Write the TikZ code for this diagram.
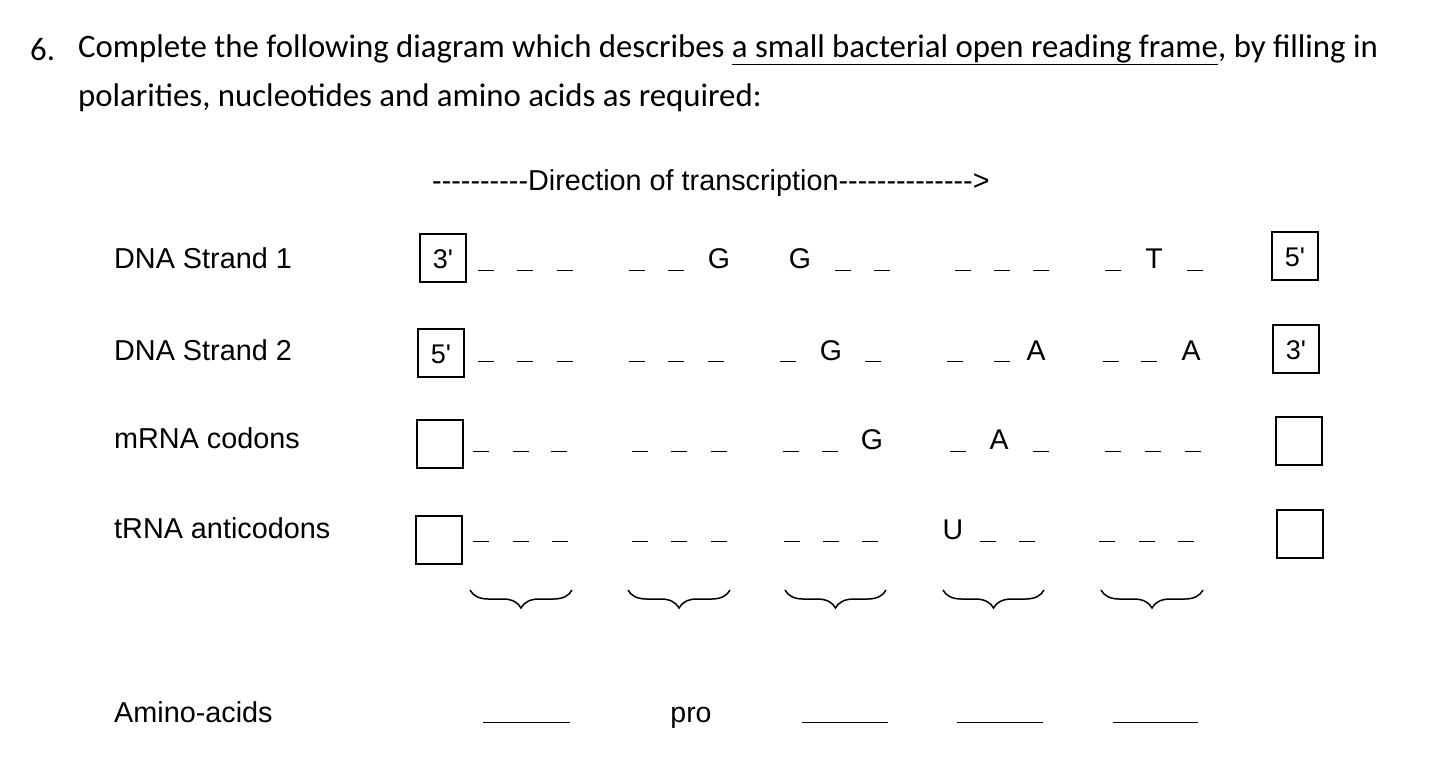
\documentclass[tikz,border=0pt]{standalone}
\usepackage{fontspec}
\newfontfamily\arial{Liberation Sans}
\newfontfamily\titlefont{Carlito}
\usetikzlibrary{decorations.pathreplacing}
\begin{document}
\begin{tikzpicture}[x=1pt,y=-1pt,
  lbl/.style={anchor=west,inner sep=0pt,font=\arial\fontsize{28.8}{32}\selectfont},
  nt/.style={inner sep=0pt,text height=20pt,text depth=0pt,font=\arial\fontsize{28.5}{32}\selectfont},
  endbox/.style={draw,line width=1.6pt,minimum width=46pt,minimum height=48pt,inner sep=0pt,text height=20pt,text depth=0pt,font=\arial\fontsize{27}{30}\selectfont},
  blank/.style={line width=1pt},
  brc/.style={decorate,decoration={brace,mirror,amplitude=18pt},line width=1.5pt},
  ttl/.style={anchor=west,inner sep=0pt,font=\titlefont\fontsize{32.8}{38}\selectfont}]
\useasboundingbox (0,0) rectangle (1452,768);
% title
\node[ttl] (num) at (30,50) {6.};
\node[ttl] (t1) at (78,50) {Complete the following diagram which describes \underline{a small bacterial open reading frame}, by filling in};
\node[ttl] (t2) at (78,98) {polarities, nucleotides and amino acids as required:};
\node[lbl] (dir) at (432,183) {----------Direction of transcription-------------->};
% row labels
\node[lbl] (l1) at (114,258) {DNA Strand 1};
\node[lbl] (l2) at (114,350) {DNA Strand 2};
\node[lbl] (l3) at (114,438) {mRNA codons};
\node[lbl] (l4) at (114,528) {tRNA anticodons};
\node[lbl] (l5) at (114,712) {Amino-acids};
% end boxes
\node[endbox] (b1l) at (443,258) {3'};
\node[endbox] (b1r) at (1295,256) {5'};
\node[endbox] (b2l) at (441,353) {5'};
\node[endbox] (b2r) at (1296,349) {3'};
\node[endbox] (b3l) at (440,444) {};
\node[endbox] (b3r) at (1299,441) {};
\node[endbox] (b4l) at (439,540) {};
\node[endbox] (b4r) at (1300,534) {};
% blanks
\foreach \x in {486,525,565,637,676,843,882,963,1002,1041,1113,1195}
  \draw[blank] (\x-8,270) -- (\x+8,270);
\foreach \x in {486,525,565,637,676,716,788,873,955,1002,1111,1149}
  \draw[blank] (\x-8,361) -- (\x+8,361);
\foreach \x in {481,521,559,640,679,719,791,830,958,1041,1113,1153,1193}
  \draw[blank] (\x-8,451) -- (\x+8,451);
\foreach \x in {481,521,560,640,679,719,792,831,870,988,1027,1107,1147,1186}
  \draw[blank] (\x-8,541) -- (\x+8,541);
% given nucleotides
\node[nt] (g1) at (719,258) {G};
\node[nt] (g2) at (800,258) {G};
\node[nt] (t1n) at (1154,258) {T};
\node[nt] (g3) at (831,350) {G};
\node[nt] (a1) at (1036,350) {A};
\node[nt] (a2) at (1191,350) {A};
\node[nt] (g4) at (872,439) {G};
\node[nt] (a3) at (999,439) {A};
\node[nt] (u1) at (953,529) {U};
% braces
\foreach \a/\b in {470/572,628/730,785/886,943/1044,1101/1203}
  \draw[brc] (\a,590) -- (\b,590);
% amino acids
\foreach \a/\b in {483/570,802/888,957/1043,1113/1198}
  \draw[line width=1pt] (\a,722) -- (\b,722);
\node[nt] (pro) at (691,712) {pro};
\end{tikzpicture}
\end{document}
